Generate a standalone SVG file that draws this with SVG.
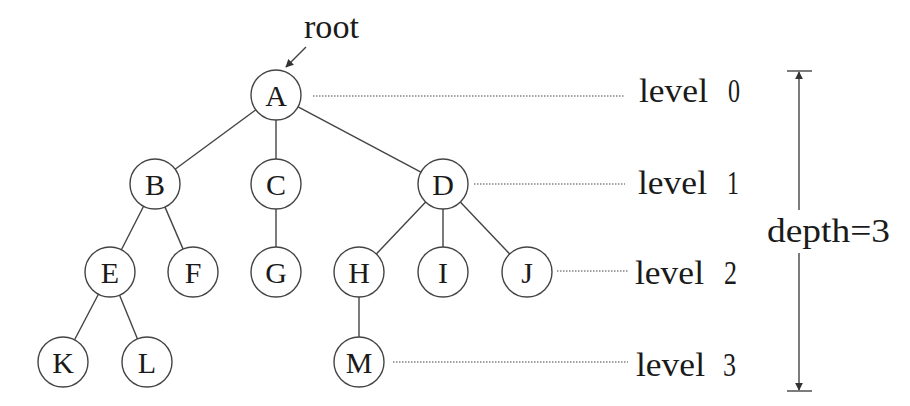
<svg xmlns="http://www.w3.org/2000/svg" width="910" height="406" viewBox="0 0 910 406">
<style>
.node circle{fill:#fff;stroke:#444;stroke-width:1.4}
.node text{font-family:"Liberation Serif",serif;font-size:30px;fill:#1a1a1a;text-anchor:middle}
.edge{stroke:#444;stroke-width:1.4;fill:none}
.dot{stroke:#444;stroke-width:1;stroke-dasharray:1.5 1.5;fill:none}
.lbl{font-family:"Liberation Serif",serif;font-size:34px;fill:#1a1a1a}
</style>
<defs>
<marker id="ah" viewBox="0 0 10 10" refX="9" refY="5" markerWidth="8" markerHeight="8" markerUnits="userSpaceOnUse" orient="auto">
<path d="M0,0 L10,5 L0,10 Z" fill="#333"/>
</marker>
</defs>
<rect width="910" height="406" fill="#fff"/>
<g id="connectors">
<line class="edge" x1="255.9" y1="109.8" x2="175.1" y2="169.2"/>
<line class="edge" x1="276" y1="120" x2="276" y2="159"/>
<line class="edge" x1="298.1" y1="106.8" x2="420.9" y2="172.2"/>
<line class="edge" x1="143.6" y1="206.3" x2="121.4" y2="249.7"/>
<line class="edge" x1="164.9" y1="206.9" x2="183.1" y2="249.1"/>
<line class="edge" x1="276" y1="209" x2="276" y2="247"/>
<line class="edge" x1="98.4" y1="294.2" x2="74.6" y2="339.8"/>
<line class="edge" x1="119.5" y1="295.1" x2="137.5" y2="338.9"/>
<line class="edge" x1="425.7" y1="202.1" x2="376.3" y2="253.9"/>
<line class="edge" x1="443" y1="209" x2="443" y2="247"/>
<line class="edge" x1="460.3" y1="202.1" x2="509.7" y2="253.9"/>
<line class="edge" x1="359" y1="297" x2="359" y2="337"/>
<line class="edge" x1="306" y1="47" x2="286" y2="67" marker-end="url(#ah)"/>
<line class="dot" x1="313" y1="96" x2="625" y2="96"/>
<line class="dot" x1="474" y1="184" x2="625" y2="184"/>
<line class="dot" x1="557" y1="271" x2="628" y2="271"/>
<line class="dot" x1="393" y1="362" x2="628" y2="362"/>
</g>
<g id="A" class="node"><circle cx="276" cy="95" r="25"/><text x="276" y="105.5">A</text></g>
<g id="B" class="node"><circle cx="155" cy="184" r="25"/><text x="155" y="194.5">B</text></g>
<g id="C" class="node"><circle cx="276" cy="184" r="25"/><text x="276" y="194.5">C</text></g>
<g id="D" class="node"><circle cx="443" cy="184" r="25"/><text x="443" y="194.5">D</text></g>
<g id="E" class="node"><circle cx="110" cy="272" r="25"/><text x="110" y="282.5">E</text></g>
<g id="F" class="node"><circle cx="193" cy="272" r="25"/><text x="193" y="282.5">F</text></g>
<g id="G" class="node"><circle cx="276" cy="272" r="25"/><text x="276" y="282.5">G</text></g>
<g id="H" class="node"><circle cx="359" cy="272" r="25"/><text x="359" y="282.5">H</text></g>
<g id="I" class="node"><circle cx="443" cy="272" r="25"/><text x="443" y="282.5">I</text></g>
<g id="J" class="node"><circle cx="527" cy="272" r="25"/><text x="527" y="282.5">J</text></g>
<g id="K" class="node"><circle cx="63" cy="362" r="25"/><text x="63" y="372.5">K</text></g>
<g id="L" class="node"><circle cx="147" cy="362" r="25"/><text x="147" y="372.5">L</text></g>
<g id="M" class="node"><circle cx="359" cy="362" r="25"/><text x="359" y="372.5">M</text></g>
<g id="labels">
<text class="lbl" x="304" y="38" textLength="55" lengthAdjust="spacingAndGlyphs">root</text>
<text class="lbl" x="639" y="102"><tspan textLength="69" lengthAdjust="spacingAndGlyphs">level</tspan><tspan x="728" textLength="12" lengthAdjust="spacingAndGlyphs">0</tspan></text>
<text class="lbl" x="638" y="194"><tspan textLength="69" lengthAdjust="spacingAndGlyphs">level</tspan><tspan x="727" textLength="12" lengthAdjust="spacingAndGlyphs">1</tspan></text>
<text class="lbl" x="635" y="284"><tspan textLength="69" lengthAdjust="spacingAndGlyphs">level</tspan><tspan x="724" textLength="13" lengthAdjust="spacingAndGlyphs">2</tspan></text>
<text class="lbl" x="636" y="376"><tspan textLength="69" lengthAdjust="spacingAndGlyphs">level</tspan><tspan x="723" textLength="13" lengthAdjust="spacingAndGlyphs">3</tspan></text>
<text class="lbl" x="767" y="242" textLength="123" lengthAdjust="spacingAndGlyphs">depth=3</text>
</g>
<g id="depth">
<line class="edge" x1="787" y1="71" x2="812" y2="71"/>
<line class="edge" x1="787" y1="391" x2="812" y2="391"/>
<line class="edge" x1="799" y1="210" x2="799" y2="72" marker-end="url(#ah)"/>
<line class="edge" x1="799" y1="253" x2="799" y2="390" marker-end="url(#ah)"/>
</g>
</svg>
